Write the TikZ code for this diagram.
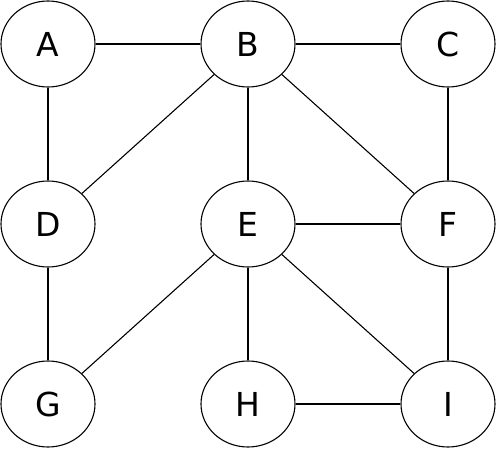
\documentclass[tikz,border=0pt]{standalone}
\usepackage{fontspec}
\setmainfont{DejaVu Sans}
\usetikzlibrary{shapes.geometric}
\begin{document}
\begin{tikzpicture}[x=1pt,y=-1pt,
  vnode/.style={ellipse,draw,line width=1.1pt,minimum width=94pt,minimum height=86pt,inner sep=0pt,font=\fontsize{33}{36}\selectfont},
  edge/.style={line width=1.1pt}]
\useasboundingbox (0,0) rectangle (496,449);
\node[vnode] (A) at (48,44) {A};
\node[vnode] (B) at (248,44) {B};
\node[vnode] (C) at (448,44) {C};
\node[vnode] (D) at (48,224) {D};
\node[vnode] (E) at (248,224) {E};
\node[vnode] (F) at (448,224) {F};
\node[vnode] (G) at (48,404) {G};
\node[vnode] (H) at (248,404) {H};
\node[vnode] (I) at (448,404) {I};
\draw[edge] (A) -- (B);
\draw[edge] (B) -- (C);
\draw[edge] (A) -- (D);
\draw[edge] (B) -- (D);
\draw[edge] (B) -- (E);
\draw[edge] (B) -- (F);
\draw[edge] (C) -- (F);
\draw[edge] (D) -- (G);
\draw[edge] (E) -- (F);
\draw[edge] (E) -- (G);
\draw[edge] (E) -- (H);
\draw[edge] (E) -- (I);
\draw[edge] (F) -- (I);
\draw[edge] (H) -- (I);
\end{tikzpicture}
\end{document}
